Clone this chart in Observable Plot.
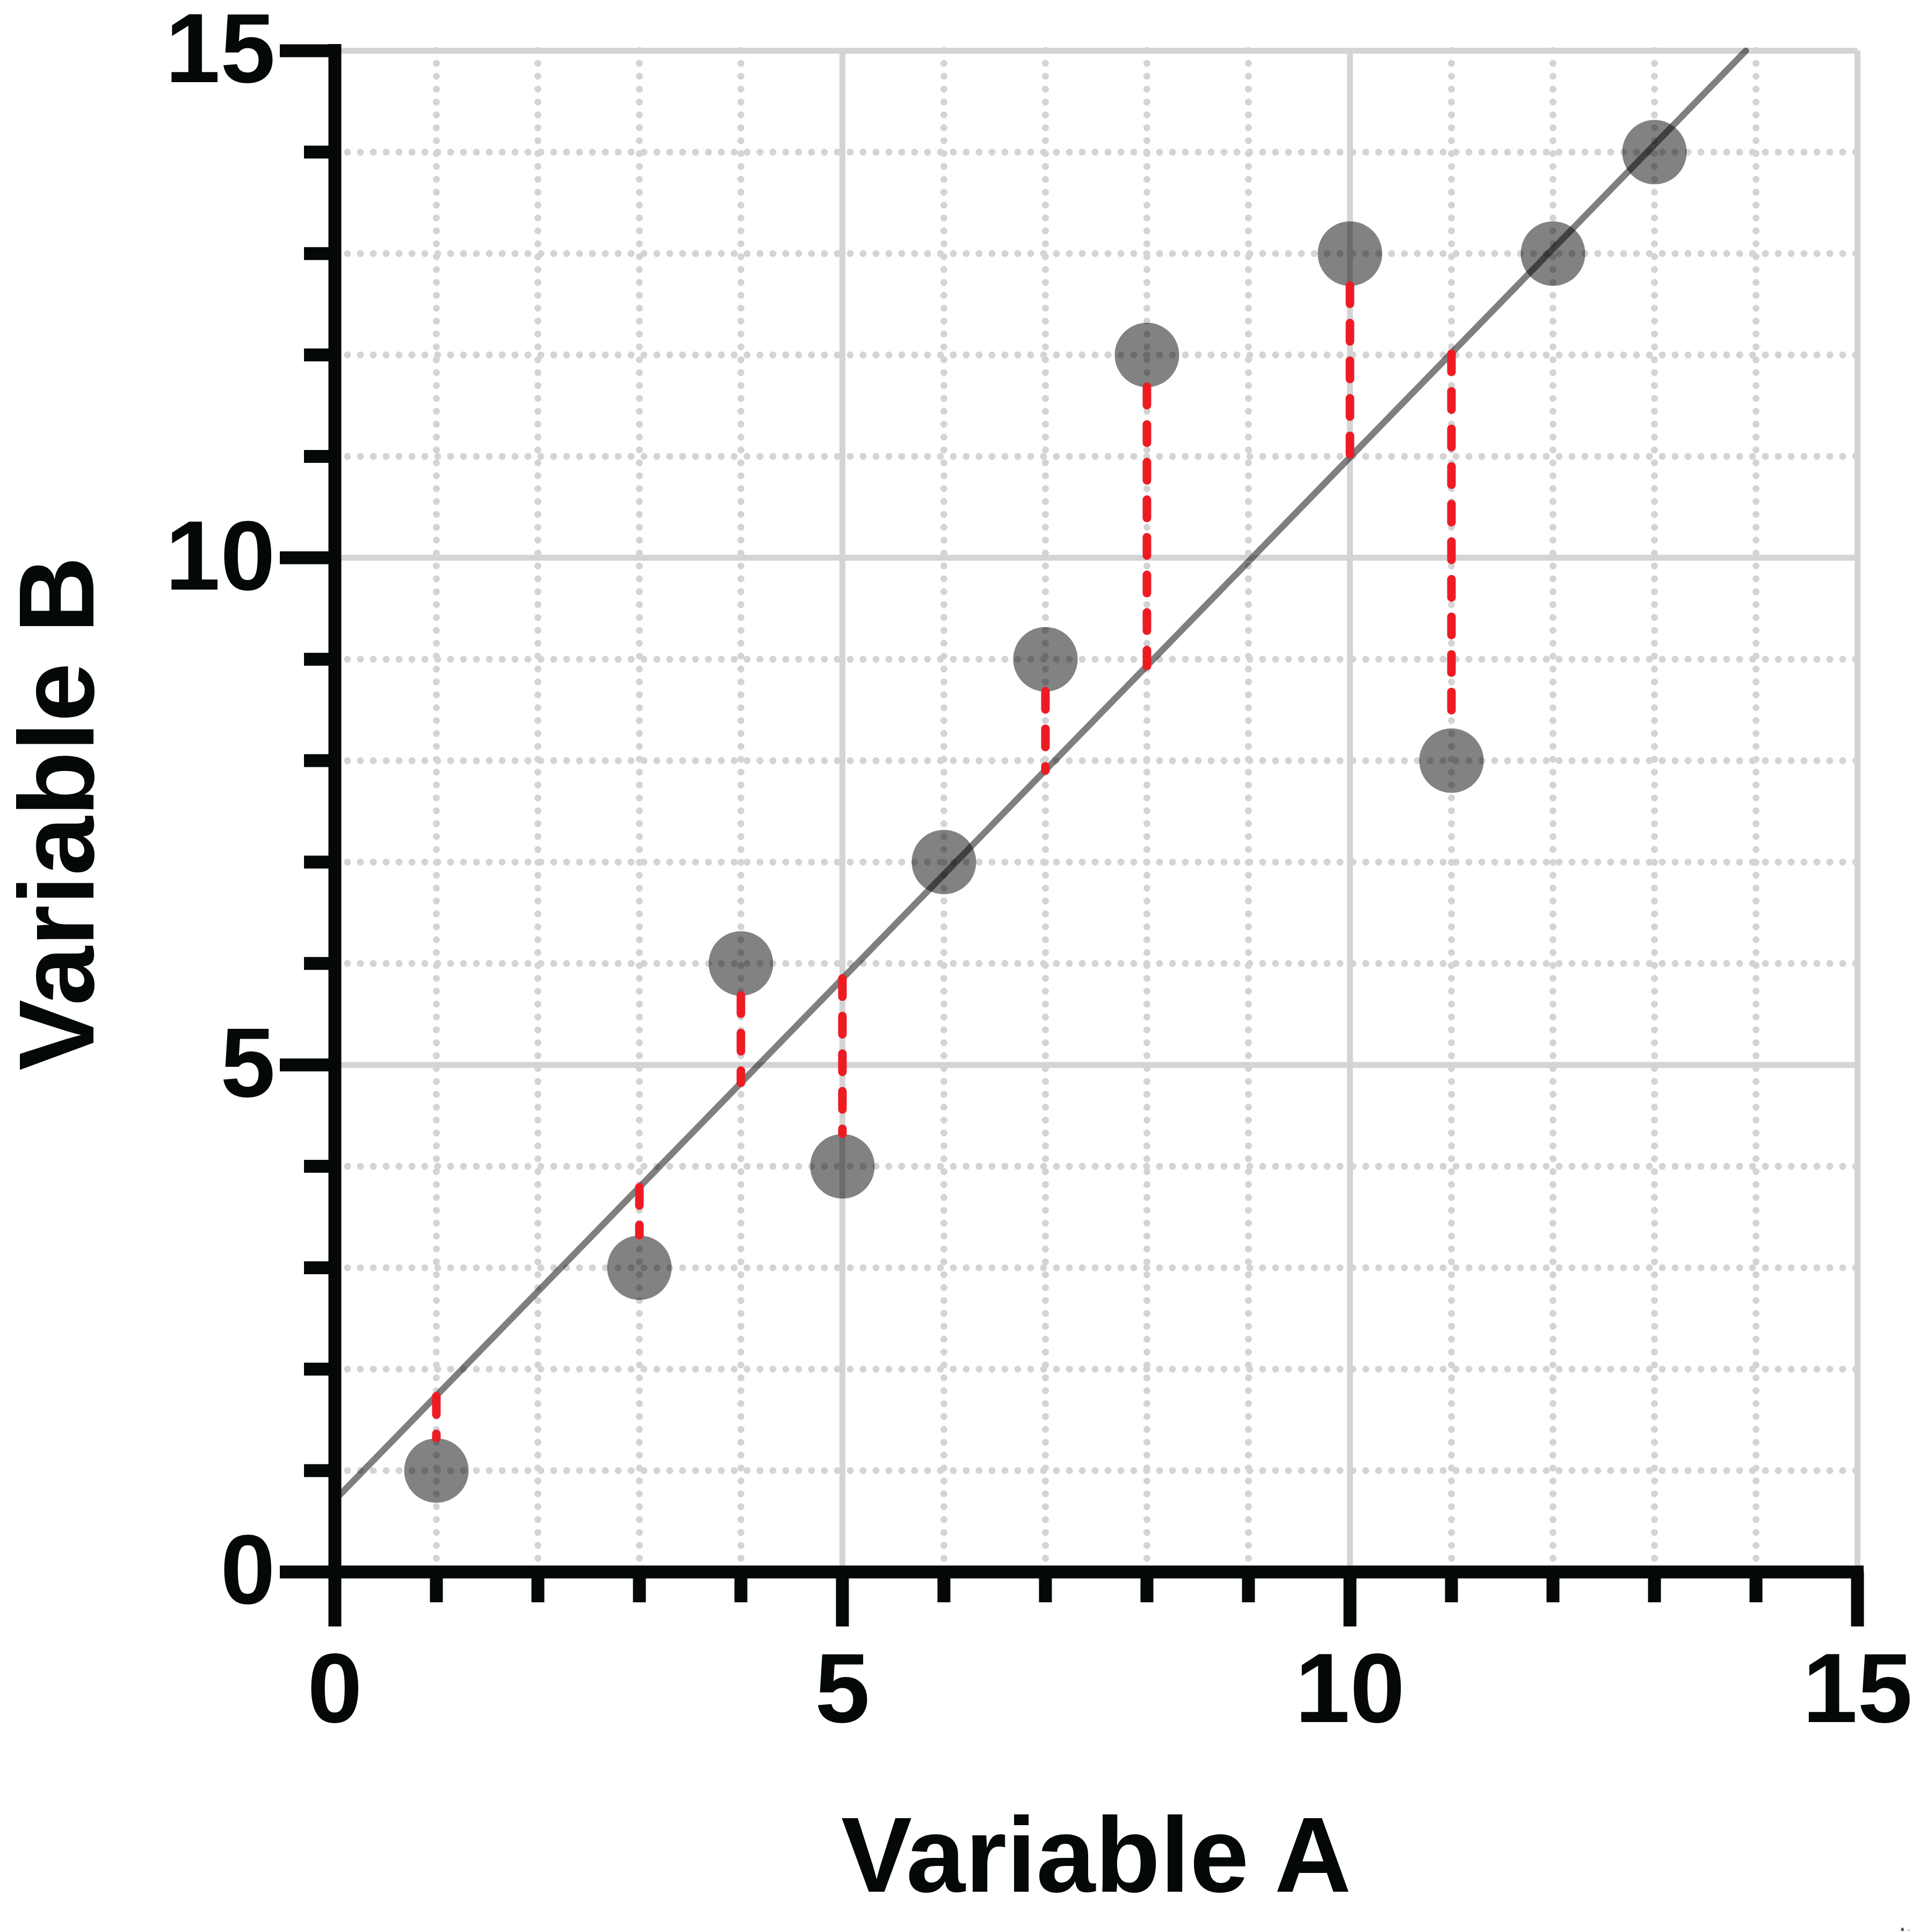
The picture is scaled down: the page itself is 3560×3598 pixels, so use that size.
<!DOCTYPE html>
<html>
<head>
<meta charset="utf-8">
<script src="https://cdn.jsdelivr.net/npm/d3@7"></script>
<script src="https://cdn.jsdelivr.net/npm/@observablehq/plot@0.6"></script>
<style>
  html, body { margin: 0; padding: 0; background: #ffffff; }
  svg { display: block; }
</style>
</head>
<body>
<div id="chart"></div>
<script>
// Observed data
const varA = [1, 3, 4, 5, 6, 7, 8, 10, 11, 12, 13];
const varB = [1, 3, 6, 4, 7, 9, 12, 13, 8, 13, 14];
// Fitted (regression) values of B at each A
const fitB = [1.73, 3.79, 4.82, 5.85, 6.87, 7.90, 8.93, 10.99, 12.01, 13.04, 14.07];
// Regression line end points
const lineA = [0, 13.9];
const lineB = [0.71, 15];
// Ticks
const majorTicks = [0, 5, 10, 15];
const minorTicks = [1, 2, 3, 4, 6, 7, 8, 9, 11, 12, 13, 14];
const xTitle = "Variable A";
const yTitle = "Variable B";

const points = varA.map((a, i) => ({a, b: varB[i], fit: fitB[i]}));
const fitLine = lineA.map((a, i) => ({a, b: lineB[i]}));
const above = points.filter(d => d.b - d.fit > 0.4);
const below = points.filter(d => d.fit - d.b > 0.4);

const AXIS = "#040808";
const GRID = "#d4d4d4";
const RED = "#ed1c24";

const chart = Plot.plot({
  width: 3560,
  height: 3598,
  marginLeft: 623,
  marginRight: 102,
  marginTop: 94,
  marginBottom: 671,
  style: {fontFamily: "'Liberation Sans', Arial, sans-serif", fontWeight: "bold", background: "#ffffff", color: AXIS},
  x: {domain: [0, 15]},
  y: {domain: [0, 15]},
  marks: [
    // minor dotted grid
    Plot.gridX(minorTicks, {stroke: GRID, strokeOpacity: 1, strokeWidth: 13, strokeDasharray: "0,24", strokeLinecap: "round"}),
    Plot.gridY(minorTicks, {stroke: GRID, strokeOpacity: 1, strokeWidth: 13, strokeDasharray: "0,24", strokeLinecap: "round"}),
    // major solid grid
    Plot.gridX(majorTicks, {stroke: GRID, strokeOpacity: 1, strokeWidth: 11}),
    Plot.gridY(majorTicks, {stroke: GRID, strokeOpacity: 1, strokeWidth: 11}),
    // regression line
    Plot.line(fitLine, {x: "a", y: "b", stroke: "#000", strokeOpacity: 0.5, strokeWidth: 12, strokeLinecap: "round"}),
    // points
    Plot.dot(points, {x: "a", y: "b", r: 60, fill: "#000", fillOpacity: 0.49, stroke: "none"}),
    // residuals (point above fit): start at circle edge
    Plot.ruleX(above, {x: "a", y1: "b", y2: "fit", insetTop: 60, stroke: RED, strokeWidth: 16, strokeDasharray: "34,36", strokeLinecap: "round"}),
    // residuals (point below fit)
    Plot.ruleX(below, {x: "a", y1: "fit", y2: "b", insetBottom: 60, stroke: RED, strokeWidth: 16, strokeDasharray: "34,36", strokeLinecap: "round"}),
    // axis lines
    Plot.ruleY([0], {stroke: AXIS, strokeWidth: 24, strokeLinecap: "square"}),
    Plot.ruleX([0], {stroke: AXIS, strokeWidth: 24, strokeLinecap: "square"}),
    // ticks
    Plot.axisX(minorTicks, {tickSize: 57, stroke: AXIS, strokeWidth: 24, text: null}),
    Plot.axisY(minorTicks, {tickSize: 57, stroke: AXIS, strokeWidth: 24, text: null}),
    Plot.axisX(majorTicks, {tickSize: 102, tickPadding: 47, tickFormat: "d", stroke: AXIS, strokeWidth: 24, fontSize: 184, fill: AXIS, label: null}),
    Plot.axisY(majorTicks, {tickSize: 102, tickPadding: 9, tickFormat: "d", stroke: AXIS, strokeWidth: 24, fontSize: 184, fill: AXIS, label: null}),
    // axis titles
    Plot.text([xTitle], {frameAnchor: "bottom", textAnchor: "middle", lineAnchor: "bottom", dy: 595, fontSize: 198, fill: AXIS, fontWeight: "bold"}),
    Plot.text([yTitle], {frameAnchor: "left", textAnchor: "middle", lineAnchor: "bottom", rotate: -90, dx: -450, dy: 4, fontSize: 198, fill: AXIS, fontWeight: "bold"})
  ]
});
document.getElementById("chart").appendChild(chart);
</script>
</body>
</html>
